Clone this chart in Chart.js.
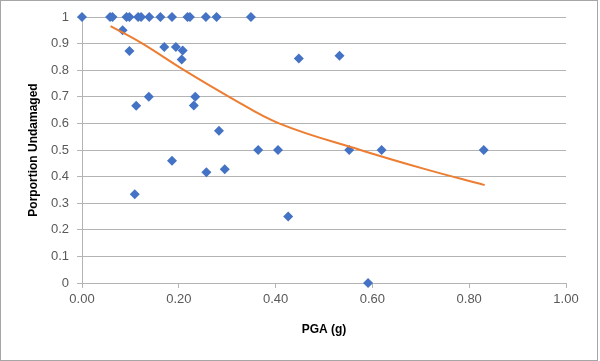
<!DOCTYPE html>
<html>
<head>
<meta charset="utf-8">
<script src="https://cdn.jsdelivr.net/npm/chart.js@4"></script>
<style>
  html, body { margin: 0; padding: 0; background: #fff; }
  #wrap { width: 600px; height: 361px; }
</style>
</head>
<body>
<div id="wrap"><canvas id="chart" width="600" height="361"></canvas></div>
<script>
'use strict';

// Messpunkte (PGA in g, Anteil unbeschädigt)
const pgaValues = [
  0.0, 0.058, 0.063, 0.092, 0.098, 0.116, 0.122, 0.139, 0.162, 0.186, 0.218,
  0.223, 0.256, 0.278, 0.349, 0.084, 0.098, 0.17, 0.194, 0.208, 0.206, 0.112,
  0.138, 0.234, 0.231, 0.283, 0.364, 0.405, 0.448, 0.532, 0.552, 0.619, 0.83,
  0.109, 0.186, 0.257, 0.295, 0.426, 0.591,
];
const undamagedValues = [
  1, 1, 1, 1, 1, 1, 1, 1, 1, 1, 1, 1, 1, 1, 1, 0.95, 0.872, 0.887, 0.887,
  0.874, 0.84, 0.666, 0.7, 0.7, 0.667, 0.572, 0.5, 0.5, 0.844, 0.854, 0.5,
  0.5, 0.5, 0.334, 0.46, 0.416, 0.428, 0.25, 0,
];

// Trendlinie
const trendX = [0.059, 0.125, 0.211, 0.304, 0.407, 0.575, 0.709, 0.832];
const trendY = [0.966, 0.9, 0.8, 0.7, 0.6, 0.5, 0.428, 0.368];

const xTickLabels = ['0.00', '0.20', '0.40', '0.60', '0.80', '1.00'];
const yTickLabels = ['0', '0.1', '0.2', '0.3', '0.4', '0.5', '0.6', '0.7', '0.8', '0.9', '1'];

const font = 'Liberation Sans';
const gridColor = '#b4b4b4';
const tickColor = '#595959';

// Rahmen um das ganze Diagramm
const framePlugin = {
  id: 'frame',
  afterDraw(chart) {
    const ctx = chart.ctx;
    ctx.save();
    ctx.strokeStyle = '#a6a6a6';
    ctx.lineWidth = 1;
    ctx.strokeRect(0.5, 0.5, 597, 360);
    ctx.restore();
  },
};

new Chart(document.getElementById('chart').getContext('2d'), {
  type: 'scatter',
  data: {
    datasets: [
      {
        label: 'Trend',
        data: trendX.map((x, i) => ({ x, y: trendY[i] })),
        showLine: true,
        borderColor: '#ed7d31',
        borderWidth: 2,
        pointRadius: 0,
        tension: 0.4,
        order: 0,
      },
      {
        label: 'Proportion',
        data: pgaValues.map((x, i) => ({ x, y: undamagedValues[i] })),
        pointStyle: 'rectRot',
        pointRadius: 5,
        backgroundColor: '#4472c4',
        borderColor: '#4472c4',
        borderWidth: 0,
        clip: false,
        order: 1,
      },
    ],
  },
  options: {
    responsive: false,
    animation: false,
    layout: { padding: { left: 0, top: 17, right: 34, bottom: 0 } },
    plugins: {
      legend: { display: false },
      tooltip: { enabled: false },
    },
    scales: {
      x: {
        type: 'linear',
        min: 0,
        max: 1,
        afterBuildTicks: scale => {
          scale.ticks = xTickLabels.map(t => ({ value: parseFloat(t) }));
        },
        afterFit: scale => {
          scale.height = 78;
        },
        grid: {
          drawOnChartArea: false,
          drawTicks: true,
          tickLength: 5,
          color: gridColor,
        },
        border: { color: gridColor },
        ticks: {
          color: tickColor,
          font: { family: font, size: 13 },
          padding: 4,
          callback: (value, index) => xTickLabels[index],
        },
        title: {
          display: true,
          text: 'PGA (g)',
          color: '#000',
          font: { family: font, size: 12, weight: 'bold' },
          padding: { top: 0, bottom: 24 },
        },
      },
      y: {
        type: 'linear',
        min: 0,
        max: 1,
        afterBuildTicks: scale => {
          scale.ticks = yTickLabels.map(t => ({ value: parseFloat(t) }));
        },
        afterFit: scale => {
          scale.width = 82;
        },
        grid: {
          color: gridColor,
          drawTicks: true,
          tickLength: 5,
        },
        border: { color: gridColor },
        ticks: {
          color: tickColor,
          font: { family: font, size: 13 },
          padding: 8,
          callback: (value, index) => yTickLabels[index],
        },
        title: {
          display: true,
          text: 'Porportion Undamaged',
          color: '#000',
          font: { family: font, size: 12, weight: 'bold' },
          padding: { top: 26, bottom: 0 },
        },
      },
    },
  },
  plugins: [framePlugin],
});
</script>
</body>
</html>
